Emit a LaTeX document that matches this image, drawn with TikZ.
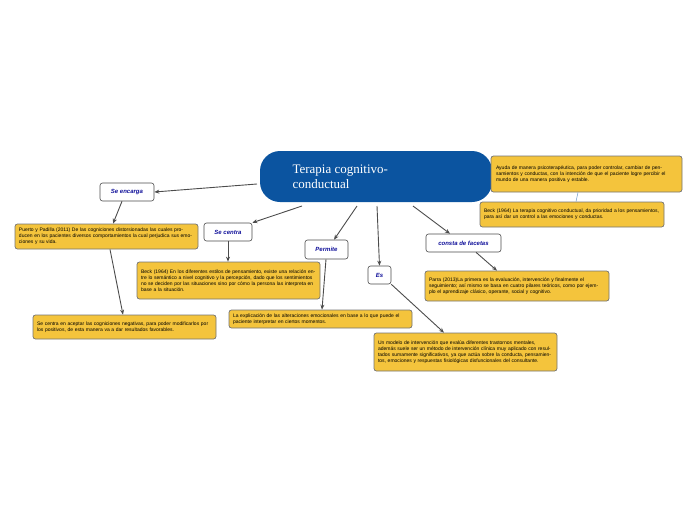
\documentclass[tikz,border=0pt]{standalone}
\usepackage{fontspec}
\setmainfont{Liberation Sans}
\usetikzlibrary{arrows.meta}
\definecolor{tblue}{HTML}{0B54A0}
\definecolor{ybox}{HTML}{F4C43C}
\definecolor{lab}{HTML}{10109A}
\begin{document}
\begin{tikzpicture}[x=1pt,y=-1pt,
 box/.style={draw=black!55,fill=ybox,rounded corners=2.5pt,line width=0.7pt,align=left,inner sep=0pt,font=\fontsize{5}{6}\selectfont,drop shadow/.style={}},
 lbl/.style={draw=black!70,fill=white,rounded corners=2.5pt,line width=0.6pt,inner sep=0pt,font=\fontsize{6}{7}\selectfont\bfseries\itshape,text=lab},
 arr/.style={draw=black!70,line width=0.9pt,-{Stealth[length=5pt,width=4pt]}}]
\useasboundingbox (0,0) rectangle (697,520);
\node[fill=tblue,rounded corners=20pt,minimum width=232pt,minimum height=51pt,inner sep=0pt] (title) at (376,176.5) {};
\node[text=white,font=\fontsize{13}{15}\selectfont\bfseries\rmfamily\setmainfont{Liberation Serif},align=left,anchor=west] (tt) at (289,176.5) {\fontspec{Liberation Serif}Terapia cognitivo-\\\fontspec{Liberation Serif}conductual};
\node[lbl,minimum width=54pt,minimum height=18pt] (enc) at (127,192) {Se encarga};
\node[box,minimum width=183pt,minimum height=25pt,text width=175pt] (puerto) at (106.5,236.5) {Puerto y Padilla (2011) De las cogniciones distorsionadas las cuales producen en los pacientes diversos comportamientos la cual perjudica sus emociones y su vida.};
\node[box,minimum width=183pt,minimum height=24pt,text width=175pt] (acep) at (124.5,327) {Se centra en aceptar las cogniciones negativas, para poder modificarlos por los positivos, de esta manera va a dar resultados favorables.};
\node[lbl,minimum width=48pt,minimum height=18pt] (cen) at (228,232) {Se centra};
\node[box,minimum width=183pt,minimum height=37pt,text width=175pt] (beck) at (228.5,280.5) {Beck (1964) En los diferentes estilos de pensamiento, existe una relación entre lo semántico a nivel cognitivo y la percepción, dado que los sentimientos no se deciden por las situaciones sino por cómo la persona las interpreta en base a la situación.};
\node[lbl,minimum width=43pt,minimum height=19pt] (perm) at (326.5,249.5) {Permite};
\node[box,minimum width=183pt,minimum height=18pt,text width=175pt] (expl) at (320.5,319) {La explicación de las alteraciones emocionales en base a lo que puede el paciente interpretar en ciertos momentos.};
\node[lbl,minimum width=23pt,minimum height=18pt] (es) at (379.5,275) {Es};
\node[box,minimum width=183pt,minimum height=38pt,text width=175pt] (modelo) at (465.5,352) {Un modelo de intervención que evalúa diferentes trastornos mentales, además suele ser un método de intervención clínica muy aplicado con resultados sumamente significativos, ya que actúa sobre la conducta, pensamientos, emociones y respuestas fisiológicas disfuncionales del consultante.};
\node[lbl,minimum width=75pt,minimum height=18pt] (fac) at (463.5,243) {consta de facetas};
\node[box,minimum width=184pt,minimum height=30pt,text width=176pt] (parra) at (517,286) {Parra (2013)La primera es la evaluación, intervención y finalmente el seguimiento; así mismo se basa en cuatro pilares teóricos, como por ejemplo el aprendizaje clásico, operante, social y cognitivo.};
\node[box,minimum width=191pt,minimum height=36pt,text width=181pt] (ayuda) at (586.5,174) {Ayuda de manera psicoterapéutica, para poder controlar, cambiar de pensamientos y conductas, con la intención de que el paciente logre percibir el mundo de una manera positiva y estable.};
\node[box,minimum width=184pt,minimum height=25pt,text width=176pt] (beckr) at (572,214.5) {Beck (1964) La terapia cognitivo conductual, da prioridad a los pensamientos, para así dar un control a las emociones y conductas.};
\draw[draw=tblue!60,line width=0.5pt] (ayuda.south-|578,0) -- (beckr.north-|576,0);
\coordinate (s1) at (257,184);
\coordinate (s2) at (302,206);
\coordinate (s3) at (357,206);
\coordinate (s4) at (377,206);
\coordinate (s5) at (413,206);
\draw[arr] (s1) -- (enc.east);
\draw[arr] (enc.south-|122,0) -- (puerto.north-|113,0);
\draw[arr] (puerto.south-|110,0) -- (acep.north-|123,0);
\draw[arr] (s2) -- (cen.north east);
\draw[arr] (cen.south) -- (beck.north-|228,0);
\draw[arr] (s3) -- (perm.north-|334,0);
\draw[arr] (perm.south-|326,0) -- (expl.north-|322,0);
\draw[arr] (s4) -- (es.north);
\draw[arr] (es.south east) -- (modelo.north-|444,0);
\draw[arr] (s5) -- (fac.north-|450,0);
\draw[arr] (fac.south-|476,0) -- (parra.north-|497,0);
\end{tikzpicture}
\end{document}
